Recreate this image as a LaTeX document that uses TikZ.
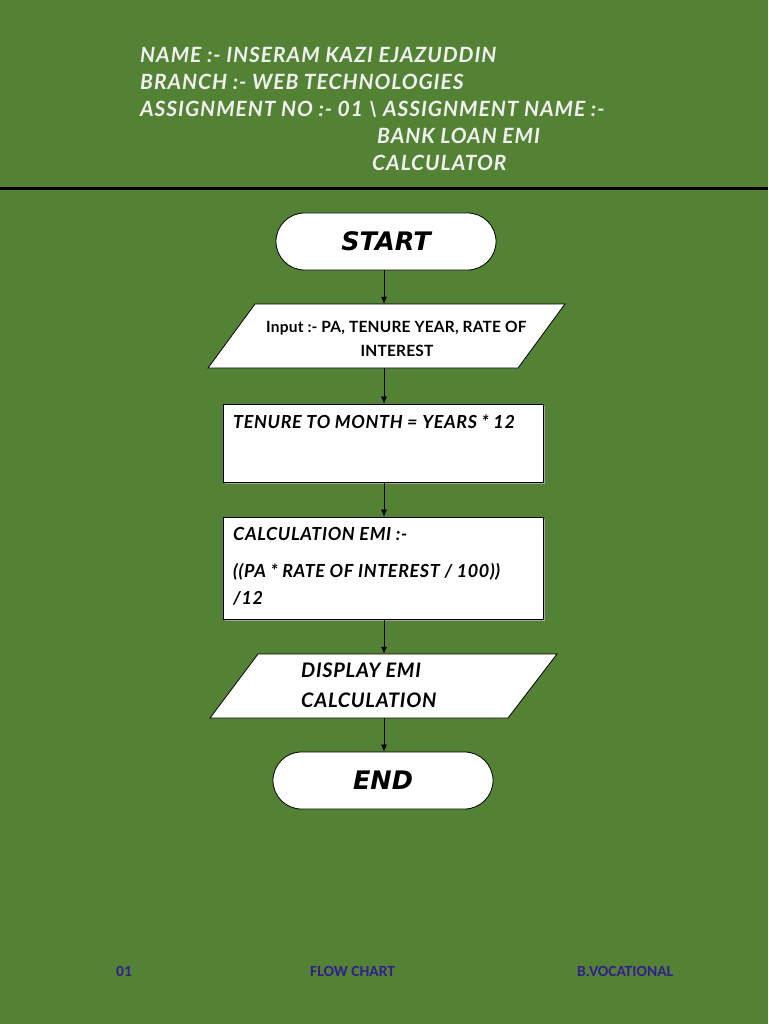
\documentclass[tikz,border=0pt]{standalone}
\usepackage{fontspec}
\setmainfont{Lato}
\newfontfamily\djv{DejaVu Sans}
\newfontfamily\carl{Carlito}
\newfontfamily\lathead[LetterSpace=4.5]{Lato}
\newfontfamily\latbox[LetterSpace=3.5]{Lato}
\newfontfamily\latin[LetterSpace=1.3]{Lato}
\usetikzlibrary{arrows.meta,shapes.misc}
\definecolor{bggreen}{RGB}{84,130,53}
\definecolor{headtxt}{RGB}{240,240,240}
\definecolor{foottxt}{RGB}{50,30,140}
\tikzset{
  shapeline/.style={draw=black, line width=0.8pt, fill=white},
  procbox/.style={shapeline, rectangle, minimum width=320pt, minimum height=#1, inner sep=0pt},
  termbox/.style={shapeline, rounded rectangle, minimum width=220pt, minimum height=57pt, inner sep=0pt,
     font=\djv\bfseries\itshape\fontsize{25.5}{28}\selectfont},
  anchorbox/.style={draw=none, rectangle, inner sep=0pt},
  flowarrow/.style={draw=black, line width=0.6pt, -{Latex[length=7pt,width=6pt]}},
  headtext/.style={anchor=base west, inner sep=0pt, text=headtxt, font=\lathead\bfseries\itshape\fontsize{21}{22}\selectfont},
  boxtext/.style={anchor=base west, inner sep=0pt, text=black, font=\latbox\bfseries\itshape\fontsize{18}{20}\selectfont},
  disptext/.style={anchor=base west, inner sep=0pt, text=black, font=\latbox\bfseries\itshape\fontsize{20}{22}\selectfont},
  intext/.style={inner sep=0pt, text=black, font=\latin\bfseries\fontsize{15.5}{17}\selectfont},
  foottext/.style={anchor=base west, inner sep=0pt, text=foottxt, font=\carl\bfseries\fontsize{15.5}{17}\selectfont},
}
\begin{document}
\begin{tikzpicture}[x=1pt,y=-1pt]
\fill[bggreen] (0,0) rectangle (768,1024);
\useasboundingbox (0,0) rectangle (768,1024);
% header
\node[headtext] (h1) at (140,63) {NAME :- INSERAM KAZI EJAZUDDIN};
\node[headtext] (h2) at (140,90) {BRANCH :- WEB TECHNOLOGIES};
\node[headtext] (h3) at (140,117) {ASSIGNMENT NO :- 01 \textbackslash\ ASSIGNMENT NAME :-};
\node[headtext] (h4) at (377,144) {BANK LOAN EMI};
\node[headtext] (h5) at (372,171) {CALCULATOR};
\draw[black, line width=3pt] (0,188.5) -- (768,188.5);

% start
\node[termbox] (start) at (386,241.5) {START};

% input parallelogram
\filldraw[shapeline] (255,304) -- (565,304) -- (518,368) -- (208,368) -- cycle;
\node[anchorbox, minimum width=357pt, minimum height=64pt] (input) at (386.5,336) {};
\node[intext, anchor=base west] (intxt1) at (266,332) {Input :- PA, TENURE YEAR, RATE OF};
\node[intext, anchor=base] (intxt2) at (397,356) {INTEREST};

% box 1
\fill[gray!70] (225,406) rectangle (545,484);
\node[procbox=78pt] (tenure) at (383,443) {};
\node[boxtext] (t1) at (233,428) {TENURE TO MONTH = YEARS * 12};

% box 2
\fill[gray!70] (225,519) rectangle (545,621);
\node[procbox=102pt] (calc) at (383,568) {};
\node[boxtext] (c1) at (233,540) {CALCULATION EMI :-};
\node[boxtext] (c2) at (233,577) {((PA * RATE OF INTEREST / 100))};
\node[boxtext] (c3) at (233,604) {/12};

% display parallelogram
\filldraw[shapeline] (258,654) -- (557,654) -- (508,718) -- (210,718) -- cycle;
\node[anchorbox, minimum width=347pt, minimum height=64pt] (disp) at (383.5,686) {};
\node[disptext] (d1) at (301,677) {DISPLAY EMI};
\node[disptext] (d2) at (301,707) {CALCULATION};

% end
\node[termbox] (end) at (383,780.5) {END};

% arrows
\draw[flowarrow] (start.south -| 384,0) -- (input.north -| 384,0);
\draw[flowarrow] (input.south -| 384,0) -- (tenure.north -| 384,0);
\draw[flowarrow] (tenure.south -| 384,0) -- (calc.north -| 384,0);
\draw[flowarrow] (calc.south -| 384,0) -- (disp.north -| 384,0);
\draw[flowarrow] (disp.south -| 384,0) -- (end.north -| 384,0);

% footer
\node[foottext] (f1) at (116,976) {01};
\node[foottext] (f2) at (310,976) {FLOW CHART};
\node[foottext] (f3) at (577,976) {B.VOCATIONAL};
\end{tikzpicture}
\end{document}
